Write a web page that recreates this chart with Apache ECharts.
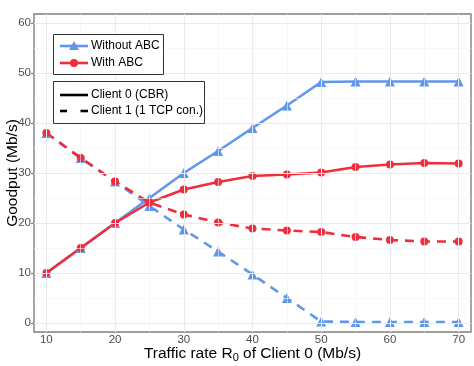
<!DOCTYPE html>
<html>
<head>
<meta charset="utf-8">
<script src="https://cdn.jsdelivr.net/npm/echarts@6/dist/echarts.min.js"></script>
<style>html,body{margin:0;padding:0;background:#fff}#c{width:474px;height:366px}</style>
</head>
<body>
<div id="c"></div>
<script>
const rates = [10, 15, 20, 25, 30, 35, 40, 45, 50, 55, 60, 65, 70];
const withoutAbcClient0 = [10, 15, 20, 25, 30, 34.4, 39.0, 43.5, 48.2, 48.3, 48.3, 48.3, 48.3];
const withoutAbcClient1 = [38.0, 33.0, 28.3, 23.4, 18.7, 14.3, 9.7, 5.0, 0.3, 0.2, 0.2, 0.2, 0.2];
const withAbcClient0 = [10, 15, 20, 24.1, 26.7, 28.2, 29.4, 29.7, 30.1, 31.2, 31.7, 32.0, 31.9];
const withAbcClient1 = [38.0, 33.0, 28.3, 24.1, 21.7, 20.1, 18.9, 18.5, 18.2, 17.2, 16.6, 16.3, 16.3];
const xTicks = [10, 20, 30, 40, 50, 60, 70];
const yTicks = [0, 10, 20, 30, 40, 50, 60];
const xMinor = [15, 25, 35, 45, 55, 65];
const yMinor = [5, 15, 25, 35, 45, 55];

const BLUE = '#5e97ec';
const RED = '#ee2e3c';
const FONT = '"Liberation Sans", Arial, sans-serif';

const pairs = (ys) => rates.map((x, i) => [x, ys[i]]);

function mkSeries(name, ys, color, symbol, dashed, size) {
  return {
    name, type: 'line', data: pairs(ys), color,
    symbol, symbolSize: size, showSymbol: true,
    lineStyle: { width: 2.6, color, type: dashed ? [9, 7] : 'solid' },
    itemStyle: { color },
    clip: false, z: 3, animation: false
  };
}

const gridLines = [];
xMinor.forEach(v => gridLines.push({ xAxis: v, lineStyle: { color: '#f4f4f4', width: 0.6, type: 'solid' } }));
yMinor.forEach(v => gridLines.push({ yAxis: v, lineStyle: { color: '#f4f4f4', width: 0.6, type: 'solid' } }));
xTicks.forEach(v => gridLines.push({ xAxis: v, lineStyle: { color: '#ebebeb', width: 1, type: 'solid' } }));
yTicks.forEach(v => gridLines.push({ yAxis: v, lineStyle: { color: '#ebebeb', width: 1, type: 'solid' } }));

const chart = echarts.init(document.getElementById('c'), null, { renderer: 'canvas' });
chart.setOption({
  animation: false,
  backgroundColor: '#ffffff',
  grid: { left: 34, right: 3, top: 14, bottom: 34, containLabel: false, outerBoundsMode: 'none', show: true, borderColor: '#7f7f7f', borderWidth: 1.4, backgroundColor: '#ffffff' },
  xAxis: {
    type: 'value', min: 8.2, max: 71.8,
    axisLine: { show: false },
    axisTick: { show: true, customValues: xTicks, length: 3, lineStyle: { color: '#7f7f7f', width: 1.2 } },
    axisLabel: { customValues: xTicks, color: '#4d4d4d', fontSize: 11.5, fontFamily: FONT, margin: 2 },
    splitLine: { show: false },
    name: '{a|Traffic rate R}{s|0}{a| of Client 0 (Mb/s)}',
    nameLocation: 'middle', nameGap: 12, nameMoveOverlap: false,
    nameTextStyle: {
      fontFamily: FONT, color: '#000', verticalAlign: 'top',
      rich: {
        a: { fontSize: 15.5, fontFamily: FONT, color: '#000' },
        s: { fontSize: 11, fontFamily: FONT, color: '#000', verticalAlign: 'bottom', padding: [8, 0, 0, 0] }
      }
    }
  },
  yAxis: {
    type: 'value', min: -1.8, max: 61.8,
    axisLine: { show: false },
    axisTick: { show: true, customValues: yTicks, length: 3, lineStyle: { color: '#7f7f7f', width: 1.2 } },
    axisLabel: { customValues: yTicks, color: '#4d4d4d', fontSize: 11.5, fontFamily: FONT, margin: 3 },
    splitLine: { show: false },
    name: 'Goodput (Mb/s)', nameLocation: 'middle', nameGap: 13, nameRotate: 90, nameMoveOverlap: false,
    nameTextStyle: { fontSize: 15.5, fontFamily: FONT, color: '#000', verticalAlign: 'bottom' }
  },
  series: [
    {
      type: 'line', data: [], z: 1, silent: true,
      markLine: { silent: true, symbol: 'none', label: { show: false }, data: gridLines, animation: false }
    },
    mkSeries('Without ABC – Client 1', withoutAbcClient1, BLUE, 'triangle', true, 10),
    mkSeries('Without ABC – Client 0', withoutAbcClient0, BLUE, 'triangle', false, 10),
    mkSeries('With ABC – Client 1', withAbcClient1, RED, 'circle', true, 8),
    mkSeries('With ABC – Client 0', withAbcClient0, RED, 'circle', false, 8)
  ],
  graphic: [
    { type: 'rect', shape: { x: 53.5, y: 34.5, width: 110, height: 40 }, style: { fill: '#fff', stroke: '#333', lineWidth: 1 }, z: 10 },
    { type: 'line', shape: { x1: 60, y1: 46, x2: 88, y2: 46 }, style: { stroke: BLUE, lineWidth: 2.6 }, z: 11 },
    { type: 'polygon', shape: { points: [[74, 41], [79, 50], [69, 50]] }, style: { fill: BLUE }, z: 11 },
    { type: 'text', x: 91, y: 46, style: { text: 'Without ABC', fontSize: 12, fontFamily: FONT, fill: '#000', verticalAlign: 'middle' }, z: 11 },
    { type: 'line', shape: { x1: 60, y1: 63, x2: 88, y2: 63 }, style: { stroke: RED, lineWidth: 2.6 }, z: 11 },
    { type: 'circle', shape: { cx: 74, cy: 63, r: 4 }, style: { fill: RED }, z: 11 },
    { type: 'text', x: 91, y: 63, style: { text: 'With ABC', fontSize: 12, fontFamily: FONT, fill: '#000', verticalAlign: 'middle' }, z: 11 },
    { type: 'rect', shape: { x: 53.5, y: 81.5, width: 151, height: 42 }, style: { fill: '#fff', stroke: '#333', lineWidth: 1 }, z: 10 },
    { type: 'line', shape: { x1: 60, y1: 95, x2: 88, y2: 95 }, style: { stroke: '#000', lineWidth: 2.6 }, z: 11 },
    { type: 'text', x: 91, y: 95, style: { text: 'Client 0 (CBR)', fontSize: 12, fontFamily: FONT, fill: '#000', verticalAlign: 'middle' }, z: 11 },
    { type: 'line', shape: { x1: 60, y1: 111, x2: 67, y2: 111 }, style: { stroke: '#000', lineWidth: 2.6 }, z: 11 },
    { type: 'line', shape: { x1: 80.5, y1: 111, x2: 88, y2: 111 }, style: { stroke: '#000', lineWidth: 2.6 }, z: 11 },
    { type: 'text', x: 91, y: 111, style: { text: 'Client 1 (1 TCP con.)', fontSize: 12, fontFamily: FONT, fill: '#000', verticalAlign: 'middle' }, z: 11 }
  ]
});
</script>
</body>
</html>
